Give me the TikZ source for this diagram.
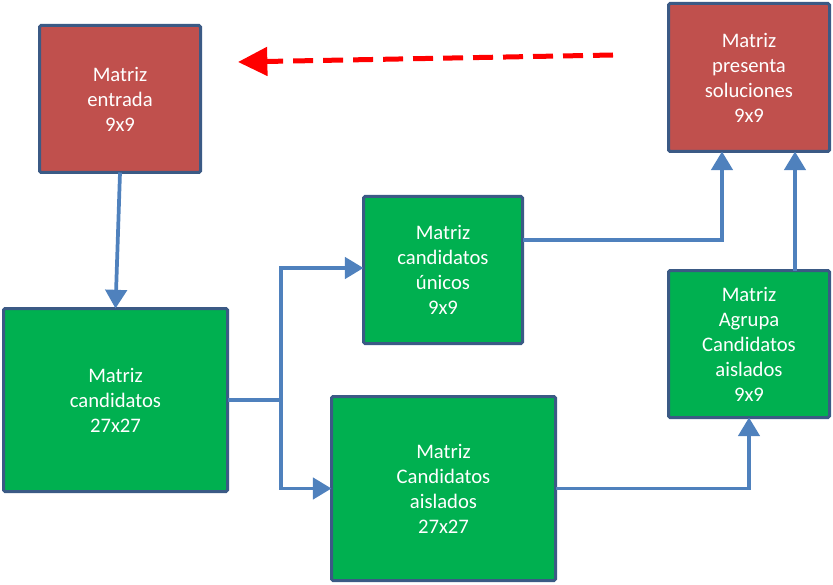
\documentclass[tikz,border=0pt]{standalone}
\usepackage{fontspec}
\setmainfont{Carlito}
\usetikzlibrary{arrows.meta,calc}
\definecolor{boxred}{HTML}{C0504D}
\definecolor{boxgreen}{HTML}{00B050}
\definecolor{boxborder}{HTML}{3B5A85}
\definecolor{connblue}{HTML}{4F81BD}
\definecolor{dashred}{HTML}{FF0000}
\tikzset{
  mbox/.style={draw=boxborder, line width=2.25pt, rounded corners=1.2pt, text=white,
    align=center, font=\fontsize{15.5}{18.75}\selectfont, inner sep=0pt, outer sep=0pt},
  redbox/.style={mbox, fill=boxred},
  greenbox/.style={mbox, fill=boxgreen},
  conn/.style={draw=connblue, line width=2.8pt},
  arr/.style={conn, -{Triangle[length=14pt,width=16pt]}},
  redarr/.style={draw=dashred, line width=3.75pt, dash pattern=on 15pt off 7.5pt,
    -{Triangle[length=22pt,width=21pt]}}
}
\begin{document}
\begin{tikzpicture}[x=0.75pt,y=-0.75pt]
\useasboundingbox (0,0) rectangle (833,585);
\node[redbox, minimum width=120.75pt, minimum height=110.25pt] (ent) at (120,99) {Matriz\\entrada\\9x9};
\node[redbox, minimum width=120.75pt, minimum height=111pt] (sol) at (749,77.5) {Matriz\\presenta\\soluciones\\9x9};
\node[greenbox, minimum width=168pt, minimum height=137.25pt] (cand) at (115.5,400) {Matriz\\candidatos\\27x27};
\node[greenbox, minimum width=119.25pt, minimum height=110.25pt] (uni) at (443,270) {Matriz\\candidatos\\únicos\\9x9};
\node[greenbox, minimum width=168pt, minimum height=138pt] (ais) at (443.5,488.5) {Matriz\\Candidatos\\aislados\\27x27};
\node[greenbox, minimum width=120.75pt, minimum height=110.25pt] (agr) at (749,344) {Matriz\\Agrupa\\Candidatos\\aislados\\9x9};
\coordinate (j) at (281,400);
\draw[arr] (ent.south) -- (cand.north);
\draw[conn] (cand.east) -- (j);
\draw[arr] (j) |- ([yshift=1.5pt]uni.west);
\draw[arr] (j) |- (ais.west);
\draw[arr] ([yshift=22.5pt]uni.east) -| ([xshift=-20.25pt]sol.south);
\draw[arr] ([xshift=34.5pt]agr.north) -- ([xshift=34.5pt]sol.south);
\draw[arr] (ais.east) -| (agr.south);
\coordinate (rs) at (613,55);
\coordinate (re) at (238,62);
\draw[redarr] (rs) -- (re);
\end{tikzpicture}
\end{document}
